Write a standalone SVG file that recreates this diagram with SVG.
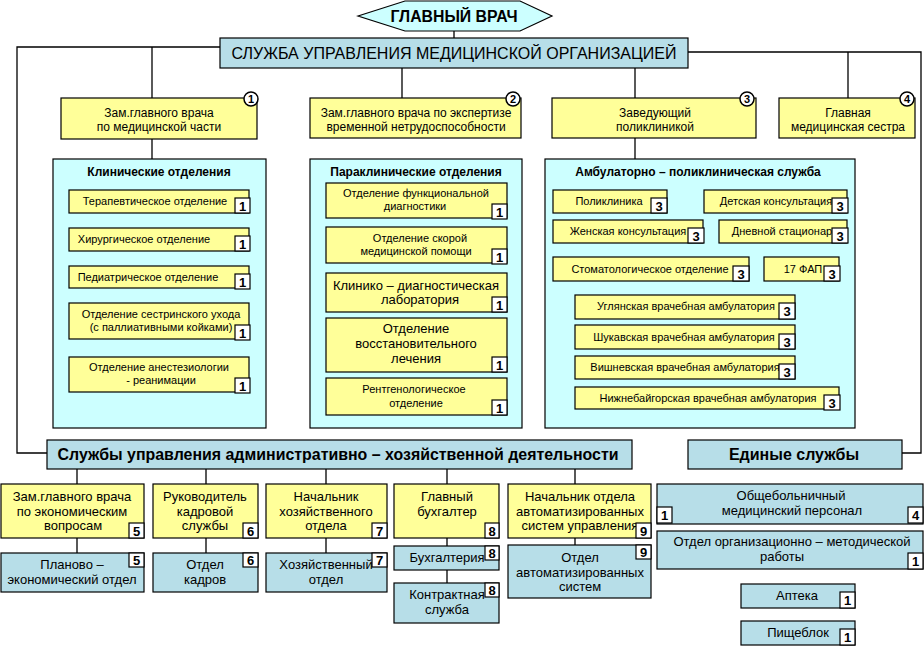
<svg xmlns="http://www.w3.org/2000/svg" width="924" height="647" viewBox="0 0 924 647">
<style>
text{font-family:"Liberation Sans",Arial,sans-serif;fill:#000;text-anchor:middle}
.y{fill:#ffff99;stroke:#000;stroke-width:1.2}
.b{fill:#b7dee8;stroke:#000;stroke-width:1.2}
.p{fill:#ccffff;stroke:#000;stroke-width:1.2}
.n{fill:#fff;stroke:#000;stroke-width:1.2}
.c{fill:#fff;stroke:#000;stroke-width:1.5}
.t11{font-size:11px}
.t12{font-size:12px}
.t13{font-size:13px}
.h12{font-size:12px;font-weight:bold}
.h16{font-size:16px;font-weight:bold}
.nb{font-size:13px;font-weight:bold}
.cn{font-size:11px;font-weight:bold}
.ln{fill:none;stroke:#000;stroke-width:1.3}
</style>
<g id="connectors" class="ln">
<path d="M454 31V38"/>
<path d="M220 47H17V453H47"/>
<path d="M152 47V98"/>
<path d="M152 139V159"/>
<path d="M402 68V98"/>
<path d="M635 68V98"/>
<path d="M635 138V159"/>
<path d="M688 52H921V453H902"/>
<path d="M848 52V98"/>
<path d="M77 469V484M206 469V484M326 469V484M447 469V484M575 469V484"/>
<path d="M77 538V553M206 538V553M326 538V553M447 538V546M575 538V545"/>
<path d="M447 570V583"/>
</g>
<g id="chief">
<polygon class="p" points="358,16 405,1 520,1 552,16 520,31 405,31"/>
<text class="h16" x="454" y="22" textLength="127" lengthAdjust="spacingAndGlyphs">ГЛАВНЫЙ ВРАЧ</text>
</g>
<g id="mgmt">
<rect class="b" x="220" y="38" width="468" height="30"/>
<text x="454" y="59" font-size="17" textLength="445" lengthAdjust="spacingAndGlyphs">СЛУЖБА УПРАВЛЕНИЯ МЕДИЦИНСКОЙ ОРГАНИЗАЦИЕЙ</text>
</g>
<g id="dep1">
<rect class="y" x="61" y="98" width="196" height="41"/>
<text class="t12" x="159" y="117">Зам.главного врача</text>
<text class="t12" x="159" y="131">по медицинской части</text>
<circle class="c" cx="251" cy="99" r="7"/><text class="cn" x="251" y="103">1</text>
</g>
<g id="dep2">
<rect class="y" x="310" y="98" width="211" height="40"/>
<text class="t12" x="416" y="117">Зам.главного врача по экспертизе</text>
<text class="t12" x="416" y="131">временной нетрудоспособности</text>
<circle class="c" cx="513" cy="99" r="7"/><text class="cn" x="513" y="103">2</text>
</g>
<g id="dep3">
<rect class="y" x="552" y="98" width="204" height="40"/>
<text class="t12" x="655" y="117">Заведующий</text>
<text class="t12" x="655" y="131">поликлиникой</text>
<circle class="c" cx="747" cy="99" r="7"/><text class="cn" x="747" y="103">3</text>
</g>
<g id="dep4">
<rect class="y" x="779" y="98" width="136" height="40"/>
<text class="t12" x="848" y="117">Главная</text>
<text class="t12" x="848" y="131">медицинская сестра</text>
<circle class="c" cx="907" cy="99" r="7"/><text class="cn" x="907" y="103">4</text>
</g>
<g id="clinical">
<rect class="p" x="53" y="159" width="213" height="269"/>
<text class="h12" x="159" y="176">Клинические отделения</text>
</g>
<g id="c1"><rect class="y" x="69" y="190" width="180" height="23"/><text class="t11" x="155" y="205">Терапевтическое отделение</text><rect class="n" x="235" y="198" width="15" height="15"/><text class="nb" x="242.5" y="211">1</text></g>
<g id="c2"><rect class="y" x="69" y="228" width="180" height="23"/><text class="t11" x="144" y="243">Хирургическое отделение</text><rect class="n" x="235" y="236" width="15" height="15"/><text class="nb" x="242.5" y="249">1</text></g>
<g id="c3"><rect class="y" x="69" y="266" width="180" height="22"/><text class="t11" x="148" y="281">Педиатрическое отделение</text><rect class="n" x="235" y="274" width="15" height="15"/><text class="nb" x="242.5" y="287">1</text></g>
<g id="c4"><rect class="y" x="69" y="303" width="180" height="36"/><text class="t11" x="161" y="318">Отделение сестринского ухода</text><text class="t11" x="161" y="331">(с паллиативными койками)</text><rect class="n" x="235" y="325" width="15" height="15"/><text class="nb" x="242.5" y="338">1</text></g>
<g id="c5"><rect class="y" x="69" y="357" width="180" height="35"/><text class="t11" x="159" y="371">Отделение анестезиологии</text><text class="t11" x="161" y="384">- реанимации</text><rect class="n" x="235" y="378" width="15" height="15"/><text class="nb" x="242.5" y="391">1</text></g>
<g id="paraclinical">
<rect class="p" x="310" y="159" width="212" height="269"/>
<text class="h12" x="416" y="176">Параклинические отделения</text>
</g>
<g id="p1"><rect class="y" x="326" y="183" width="181" height="35"/><text class="t11" x="416" y="197">Отделение функциональной</text><text class="t11" x="415" y="210">диагностики</text><rect class="n" x="492" y="204" width="15" height="15"/><text class="nb" x="499.5" y="217">1</text></g>
<g id="p2"><rect class="y" x="326" y="227" width="181" height="36"/><text class="t11" x="420" y="242">Отделение скорой</text><text class="t11" x="416" y="255">медицинской помощи</text><rect class="n" x="492" y="249" width="15" height="15"/><text class="nb" x="499.5" y="262">1</text></g>
<g id="p3"><rect class="y" x="326" y="273" width="181" height="39"/><text class="t13" x="416" y="290">Клинико – диагностическая</text><text class="t13" x="420" y="304">лаборатория</text><rect class="n" x="492" y="297" width="15" height="15"/><text class="nb" x="499.5" y="310">1</text></g>
<g id="p4"><rect class="y" x="326" y="318" width="181" height="54"/><text class="t13" x="416" y="333">Отделение</text><text class="t13" x="416" y="348">восстановительного</text><text class="t13" x="416" y="363">лечения</text><rect class="n" x="492" y="357" width="15" height="15"/><text class="nb" x="499.5" y="370">1</text></g>
<g id="p5"><rect class="y" x="326" y="378" width="181" height="37"/><text class="t11" x="414" y="393">Рентгенологическое</text><text class="t11" x="416" y="407">отделение</text><rect class="n" x="492" y="400" width="15" height="15"/><text class="nb" x="499.5" y="413">1</text></g>
<g id="ambulatory">
<rect class="p" x="545" y="159" width="310" height="269"/>
<text class="h12" x="698" y="176">Амбулаторно – поликлиническая служба</text>
</g>
<g id="a1"><rect class="y" x="553" y="190" width="114" height="23"/><text class="t11" x="609" y="205">Поликлиника</text><rect class="n" x="651" y="198" width="16" height="15"/><text class="nb" x="659" y="211">3</text></g>
<g id="a2"><rect class="y" x="704" y="190" width="143" height="23"/><text class="t11" x="776" y="205">Детская консультация</text><rect class="n" x="832" y="198" width="16" height="15"/><text class="nb" x="840" y="211">3</text></g>
<g id="a3"><rect class="y" x="553" y="220" width="150" height="23"/><text class="t11" x="628" y="235">Женская консультация</text><rect class="n" x="688" y="228" width="16" height="15"/><text class="nb" x="696" y="241">3</text></g>
<g id="a4"><rect class="y" x="719" y="220" width="128" height="23"/><text class="t11" x="782" y="235">Дневной стационар</text><rect class="n" x="832" y="228" width="16" height="15"/><text class="nb" x="840" y="241">3</text></g>
<g id="a5"><rect class="y" x="553" y="257" width="196" height="24"/><text class="t11" x="650" y="273">Стоматологическое отделение</text><rect class="n" x="733" y="266" width="16" height="15"/><text class="nb" x="741" y="279">3</text></g>
<g id="a6"><rect class="y" x="764" y="257" width="75" height="24"/><text class="t11" x="803" y="273">17 ФАП</text><rect class="n" x="824" y="266" width="16" height="15"/><text class="nb" x="832" y="279">3</text></g>
<g id="a7"><rect class="y" x="575" y="295" width="220" height="24"/><text class="t11" x="686" y="310">Углянская врачебная амбулатория</text><rect class="n" x="779" y="303" width="16" height="16"/><text class="nb" x="787" y="316">3</text></g>
<g id="a8"><rect class="y" x="575" y="325" width="220" height="24"/><text class="t11" x="684" y="341">Шукавская врачебная амбулатория</text><rect class="n" x="779" y="334" width="16" height="15"/><text class="nb" x="787" y="347">3</text></g>
<g id="a9"><rect class="y" x="575" y="356" width="220" height="23"/><text class="t11" x="685" y="371">Вишневская врачебная амбулатория</text><rect class="n" x="779" y="364" width="16" height="15"/><text class="nb" x="787" y="377">3</text></g>
<g id="a10"><rect class="y" x="575" y="387" width="264" height="22"/><text class="t11" x="708" y="402">Нижнебайгорская врачебная амбулатория</text><rect class="n" x="824" y="395" width="16" height="15"/><text class="nb" x="832" y="408">3</text></g>
<g id="admin">
<rect class="b" x="47" y="440" width="585" height="29"/>
<text class="h16" x="338" y="460" textLength="561" lengthAdjust="spacingAndGlyphs">Службы управления административно – хозяйственной деятельности</text>
</g>
<g id="unified">
<rect class="b" x="688" y="440" width="214" height="29"/>
<text class="h16" x="794" y="460">Единые службы</text>
</g>
<g id="r1"><rect class="y" x="1" y="484" width="143" height="54"/><text class="t13" x="72" y="501">Зам.главного врача</text><text class="t13" x="72" y="516">по экономическим</text><text class="t13" x="73" y="530">вопросам</text><rect class="n" x="129" y="523" width="15" height="15"/><text class="nb" x="136.5" y="536">5</text></g>
<g id="r2"><rect class="y" x="153" y="484" width="105" height="54"/><text class="t13" x="205" y="501">Руководитель</text><text class="t13" x="205" y="516">кадровой</text><text class="t13" x="205" y="530">службы</text><rect class="n" x="243" y="523" width="15" height="15"/><text class="nb" x="250.5" y="536">6</text></g>
<g id="r3"><rect class="y" x="266" y="484" width="121" height="54"/><text class="t13" x="326" y="501">Начальник</text><text class="t13" x="326" y="516">хозяйственного</text><text class="t13" x="326" y="530">отдела</text><rect class="n" x="372" y="523" width="15" height="15"/><text class="nb" x="379.5" y="536">7</text></g>
<g id="r4"><rect class="y" x="394" y="484" width="105" height="54"/><text class="t13" x="447" y="501">Главный</text><text class="t13" x="447" y="516">бухгалтер</text><rect class="n" x="485" y="523" width="14" height="15"/><text class="nb" x="492" y="536">8</text></g>
<g id="r5"><rect class="y" x="508" y="484" width="143" height="54"/><text class="t13" x="580" y="501">Начальник отдела</text><text class="t13" x="580" y="516">автоматизированных</text><text class="t13" x="580" y="530">систем управления</text><rect class="n" x="636" y="523" width="15" height="15"/><text class="nb" x="643.5" y="536">9</text></g>
<g id="s1"><rect class="b" x="1" y="553" width="143" height="39"/><text class="t13" x="72" y="569">Планово –</text><text class="t13" x="72" y="584">экономический отдел</text><rect class="n" x="129" y="553" width="15" height="14"/><text class="nb" x="136.5" y="565">5</text></g>
<g id="s2"><rect class="b" x="153" y="553" width="105" height="39"/><text class="t13" x="205" y="569">Отдел</text><text class="t13" x="205" y="584">кадров</text><rect class="n" x="243" y="553" width="15" height="14"/><text class="nb" x="250.5" y="565">6</text></g>
<g id="s3"><rect class="b" x="266" y="553" width="121" height="39"/><text class="t13" x="326" y="569">Хозяйственный</text><text class="t13" x="326" y="584">отдел</text><rect class="n" x="372" y="553" width="15" height="14"/><text class="nb" x="379.5" y="565">7</text></g>
<g id="s4"><rect class="b" x="394" y="546" width="105" height="24"/><text class="t13" x="447" y="562">Бухгалтерия</text><rect class="n" x="485" y="546" width="14" height="14"/><text class="nb" x="492" y="558">8</text></g>
<g id="s5"><rect class="b" x="394" y="583" width="105" height="40"/><text class="t13" x="447" y="599">Контрактная</text><text class="t13" x="447" y="614">служба</text><rect class="n" x="485" y="583" width="14" height="14"/><text class="nb" x="492" y="595">8</text></g>
<g id="s6"><rect class="b" x="508" y="545" width="143" height="53"/><text class="t13" x="580" y="562">Отдел</text><text class="t13" x="580" y="577">автоматизированных</text><text class="t13" x="580" y="591">систем</text><rect class="n" x="636" y="545" width="15" height="14"/><text class="nb" x="643.5" y="557">9</text></g>
<g id="u1"><rect class="b" x="657" y="484" width="266" height="40"/><text class="t13" x="791" y="500">Общебольничный</text><text class="t13" x="792" y="515">медицинский персонал</text><rect class="n" x="657" y="507" width="15" height="16"/><text class="nb" x="664.5" y="520">1</text><rect class="n" x="908" y="507" width="15" height="16"/><text class="nb" x="915.5" y="520">4</text></g>
<g id="u2"><rect class="b" x="657" y="531" width="266" height="38"/><text class="t13" x="792" y="546">Отдел организационно – методической</text><text class="t13" x="782" y="561">работы</text><rect class="n" x="908" y="553" width="15" height="16"/><text class="nb" x="915.5" y="566">1</text></g>
<g id="u3"><rect class="b" x="741" y="584" width="114" height="24"/><text class="t13" x="797" y="600">Аптека</text><rect class="n" x="840" y="592" width="15" height="16"/><text class="nb" x="847.5" y="605">1</text></g>
<g id="u4"><rect class="b" x="741" y="621" width="114" height="24"/><text class="t13" x="798" y="637">Пищеблок</text><rect class="n" x="840" y="629" width="15" height="16"/><text class="nb" x="847.5" y="642">1</text></g>
</svg>
